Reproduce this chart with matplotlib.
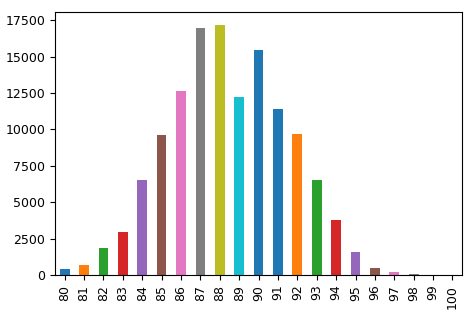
import pandas as pd
import matplotlib.pyplot as plt

scores = list(range(80, 101))
counts = [420, 650, 1850, 2980, 6500, 9580, 12650, 16950, 17200, 12200,
          15450, 11400, 9650, 6500, 3750, 1600, 500, 200, 60, 15, 5]

s = pd.Series(counts, index=scores)

fig = plt.figure(figsize=(4.74, 3.16), dpi=100)
ax = fig.add_axes([0.116, 0.13, 0.859, 0.832])
colors = plt.rcParams['axes.prop_cycle'].by_key()['color']
# colour cycle restarts after the 11th bar in the original
bar_colors = [colors[i % 10] if i <= 10 else colors[(i - 11) % 10] for i in range(len(s))]
s.plot(kind='bar', ax=ax, color=bar_colors)
ax.tick_params(labelsize=9)

plt.savefig('out.png', dpi=100)
